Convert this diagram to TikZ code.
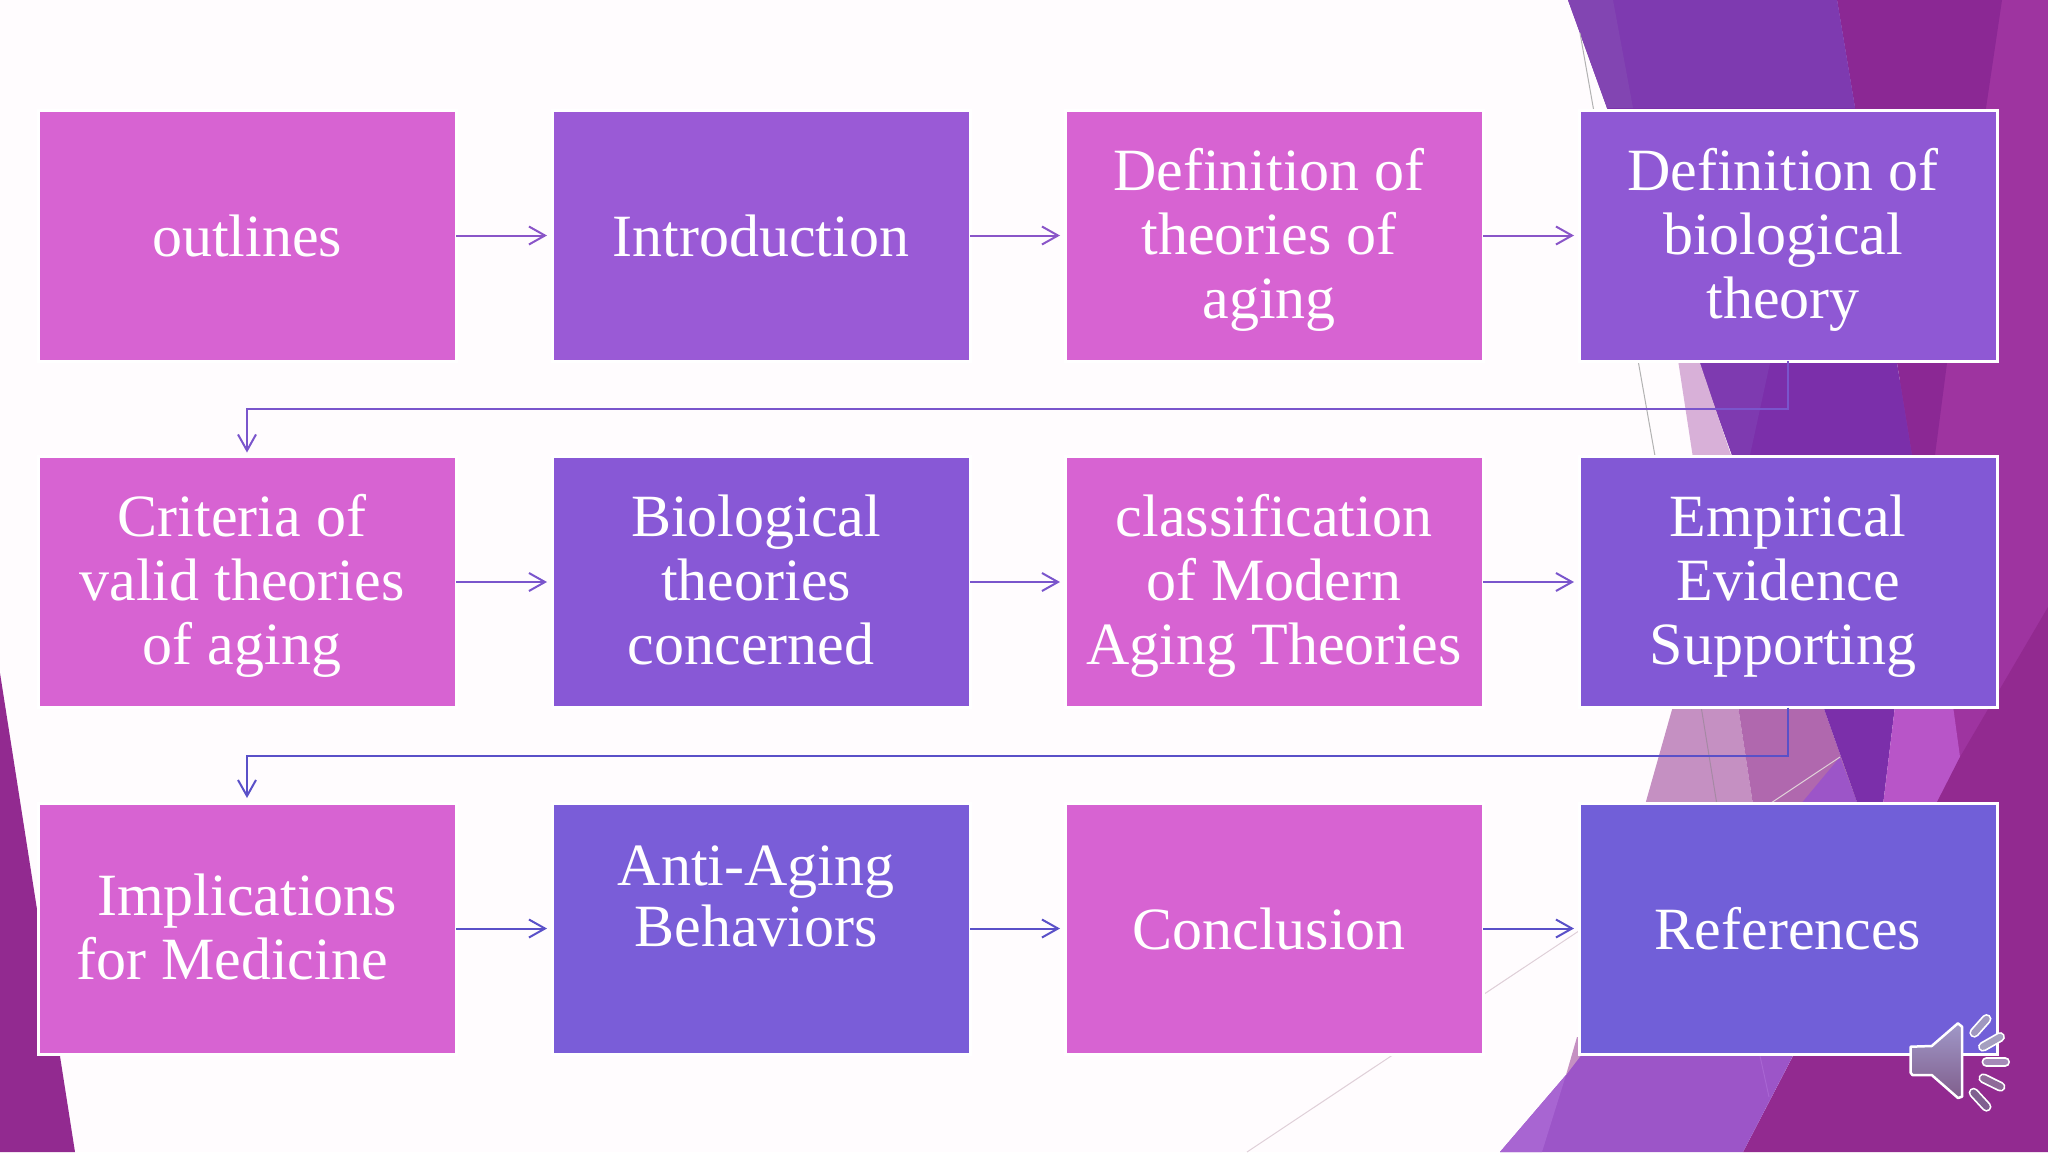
\documentclass[tikz,border=0pt]{standalone}
\usepackage{fontspec}
\setmainfont{Liberation Serif}
\usetikzlibrary{arrows.meta}
\definecolor{pinkbox}{HTML}{D763D2}
\definecolor{cA}{HTML}{9A5AD6}
\definecolor{cB}{HTML}{8858D6}
\definecolor{cC}{HTML}{7A5DD8}
\definecolor{dA}{HTML}{8F58D4}
\definecolor{dB}{HTML}{8258D5}
\definecolor{dC}{HTML}{715FD8}
\definecolor{lnA}{HTML}{8A55C8}
\definecolor{lnB}{HTML}{7A55CC}
\definecolor{lnC}{HTML}{5A50C8}
\definecolor{mgL}{HTML}{9E34A0}
\definecolor{mgD}{HTML}{922A90}
\definecolor{mgT}{HTML}{8B2894}
\definecolor{pu}{HTML}{7E3AB0}
\definecolor{puB}{HTML}{8245B2}
\definecolor{puD}{HTML}{7B2FAA}
\definecolor{paleA}{HTML}{D8B0D8}
\definecolor{paleB}{HTML}{C590C2}
\definecolor{rose}{HTML}{B068AE}
\definecolor{orch}{HTML}{B855C8}
\definecolor{viol}{HTML}{9C55C8}
\definecolor{violL}{HTML}{A865D2}
\definecolor{spkT}{HTML}{A098C8}
\definecolor{spkB}{HTML}{805E8C}
\definecolor{faint}{HTML}{DFCFD8}
\newcommand\tsp{\rule{10pt}{0pt}}
\newcommand\lift{\rule{0pt}{50pt}}
\tikzset{
  boxnode/.style={draw=white,line width=3pt,minimum width=418pt,minimum height=251pt,inner sep=0pt,outer sep=0pt,
    text=white,align=center,font=\fontsize{60}{64}\selectfont},
  flow/.style={line width=2pt,-{Straight Barb[length=16pt,width=18pt,line width=2pt]}},
  gapped/.style={shorten >=5pt},
  ray/.style={line cap=round,line width=#1},
}
\begin{document}
\begin{tikzpicture}[x=1pt,y=-1pt]
\useasboundingbox (0,0) rectangle (2048,1152);
\fill[white!99!magenta] (0,0) rectangle (2048,1152);
% background shapes
\fill[mgD] (0,673) -- (75,1152) -- (0,1152) -- cycle;
\fill[mgL] (1900,0) -- (2048,0) -- (2048,810) -- (1900,810) -- cycle;
\fill[mgT] (1837,0) -- (2002,0) -- (1986,108) -- (1947,363) -- (1935,455) -- (1912,455) -- (1897,363) -- (1855,108) -- cycle;
\fill[puD] (1568,0) -- (1837,0) -- (1855,108) -- (1897,363) -- (1912,455) -- (1732,455) -- (1699,363) -- (1607,108) -- cycle;
\fill[pu] (1613,0) -- (1837,0) -- (1855,108) -- (1620,108) -- cycle;
\fill[puB] (1568,0) -- (1613,0) -- (1633,108) -- (1607,108) -- cycle;
\fill[pu] (1699,363) -- (1770,363) -- (1750,455) -- (1732,455) -- cycle;
\fill[paleA] (1678,360) -- (1699,360) -- (1732,458) -- (1693,458) -- cycle;
\draw[gray!60,line width=1pt] (1580,33) -- (1655,456);
\fill[paleB] (1673,706) -- (1738,706) -- (1753,805) -- (1645,805) -- cycle;
\draw[gray!45!paleB,line width=1pt] (1701,706) -- (1717,805);
\fill[rose] (1738,706) -- (1823,706) -- (1858,805) -- (1753,805) -- cycle;
\fill[viol] (1840,757) -- (1858,805) -- (1800,805) -- cycle;
\fill[puD] (1823,706) -- (1895,706) -- (1883,805) -- (1858,805) -- cycle;
\fill[orch] (1895,706) -- (1953,706) -- (1960,757) -- (1936,805) -- (1883,805) -- cycle;
\fill[mgD] (2048,607) -- (2048,1152) -- (1743,1152) -- (1795,1052) -- (1937,802) -- (1960,757) -- cycle;
\fill[viol] (1582,1048) -- (1797,1048) -- (1743,1152) -- (1500,1152) -- (1566,1075) -- cycle;
\fill[violL] (1500,1152) -- (1566,1075) -- (1542,1152) -- cycle;
\fill[paleB] (1577,1037) -- (1582,1037) -- (1582,1054) -- (1566,1075) -- cycle;
\draw[violL,line width=1pt] (1760,1056) -- (1769,1097);
\draw[faint,line width=1pt] (1247,1152) -- (1840,757);
% row 1
\node[boxnode,fill=pinkbox] (a1) at (247,235.5) {outlines};
\node[boxnode,fill=cA] (a2) at (761,235.5) {Introduction};
\node[boxnode,fill=pinkbox] (a3) at (1274,235.5) {\lift Definition of\tsp\\theories of\tsp\\aging\tsp};
\node[boxnode,fill=dA] (a4) at (1788,235.5) {\lift Definition of\tsp\\biological\tsp\\theory\tsp};
% row 2
\node[boxnode,fill=pinkbox] (b1) at (247,582) {\lift Criteria of\tsp\\valid theories\tsp\\of aging\tsp};
\node[boxnode,fill=cB] (b2) at (761,582) {\lift Biological\tsp\\theories\tsp\\concerned\tsp\tsp\rule[-13pt]{0pt}{1pt}};
\node[boxnode,fill=pinkbox] (b3) at (1274,582) {\lift classification\\of Modern\\Aging Theories};
\node[boxnode,fill=dB] (b4) at (1788,582) {\lift Empirical\\Evidence\\Supporting\tsp};
% row 3
\node[boxnode,fill=pinkbox] (c1) at (247,928.5) {Implications\\for Medicine\tsp\tsp\tsp\rule[-4pt]{0pt}{1pt}};
\node[boxnode,fill=cC] (c2) at (761,928.5) {Anti-Aging\tsp\\[-3pt]Behaviors\tsp\\\mbox{}};
\node[boxnode,fill=pinkbox] (c3) at (1274,928.5) {Conclusion\tsp};
\node[boxnode,fill=dC] (c4) at (1788,928.5) {References};
% connectors
\coordinate (m1) at (1000,408.5);
\coordinate (m2) at (1000,755.5);
\draw[flow,gapped,lnA] (a1) -- (a2);
\draw[flow,gapped,lnA] (a2) -- (a3);
\draw[flow,gapped,lnA] (a3) -- (a4);
\draw[flow,lnB,shorten >=4pt] (a4.south) |- (m1) -| (b1.north);
\draw[flow,gapped,lnB] (b1) -- (b2);
\draw[flow,gapped,lnB] (b2) -- (b3);
\draw[flow,gapped,lnB] (b3) -- (b4);
\draw[flow,lnC,shorten >=5pt] (b4.south) |- (m2) -| (c1.north);
\draw[flow,gapped,lnC] (c1) -- (c2);
\draw[flow,gapped,lnC] (c2) -- (c3);
\draw[flow,gapped,lnC] (c3) -- (c4);
% speaker icon
\draw[white,line width=2.5pt,line join=round,top color=spkT,bottom color=spkB]
  (1910.7,1046.7) -- (1931.7,1046) -- (1957.9,1023.3) -- (1962,1026.7) -- (1962,1096.7) -- (1958,1098) -- (1931.7,1075) -- (1912.4,1075) -- (1910.7,1072.7) -- cycle;
\foreach \xa/\ya/\xb/\yb/\inner in {
  1974.3/1032.7/1986.5/1019/A098C0,
  1983/1046.7/2000/1037/A59FC0,
  1986.5/1062/2005/1062/A58AB8,
  1983.4/1078.3/2000.5/1086.7/8F6A98,
  1973.6/1092.7/1986.5/1106.7/806090}{
  \definecolor{rayc}{HTML}{\inner}
  \draw[ray=10pt,white] (\xa,\ya) -- (\xb,\yb);
  \draw[ray=6.5pt,rayc] (\xa,\ya) -- (\xb,\yb);
}
\end{tikzpicture}
\end{document}
